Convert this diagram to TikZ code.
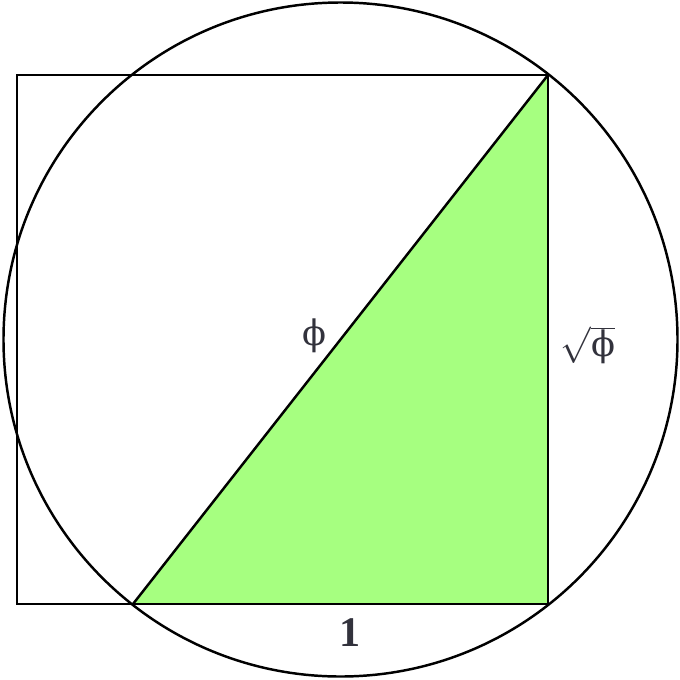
\documentclass[tikz,border=0pt]{standalone}
\usepackage{fontspec}
\setmainfont{Liberation Serif}
\newfontfamily\phifont{DejaVu Serif}
\usetikzlibrary{positioning,calc}
\definecolor{trigreen}{RGB}{166,255,128}
\definecolor{labelgray}{RGB}{50,50,60}
\newcommand{\gphi}{{\phifont ϕ}}

\begin{document}
\begin{tikzpicture}[x=0.02cm,y=-0.02cm,line width=1.4pt,
		lbl/.style={text=labelgray,font=\fontsize{20}{24}\selectfont,inner sep=1pt}]
		\useasboundingbox (0,0) rectangle (680,680);
		% square and triangle corners
		\coordinate (tl) at (17,75);
		\coordinate (tr) at (548,75);
		\coordinate (br) at (548,604);
		\coordinate (bl) at (17,604);
		\coordinate (tri) at (133,604);
		\coordinate (c) at ($(tri)!.5!(tr)$);

		\fill[trigreen] (tri) -- (br) -- (tr) -- cycle;
		\draw (tl) rectangle (br);
		\draw (tri) -- (tr);
		\draw (c) circle (337);

		\node[lbl] (hyp) at (314,336) {\gphi};
		\node[lbl] (side) at (588,345) {$\sqrt{\mbox{\gphi}}$};
		\node[lbl,font=\fontsize{24}{28}\selectfont\bfseries] (base) at (350,633) {1};
	\end{tikzpicture}
\end{document}
